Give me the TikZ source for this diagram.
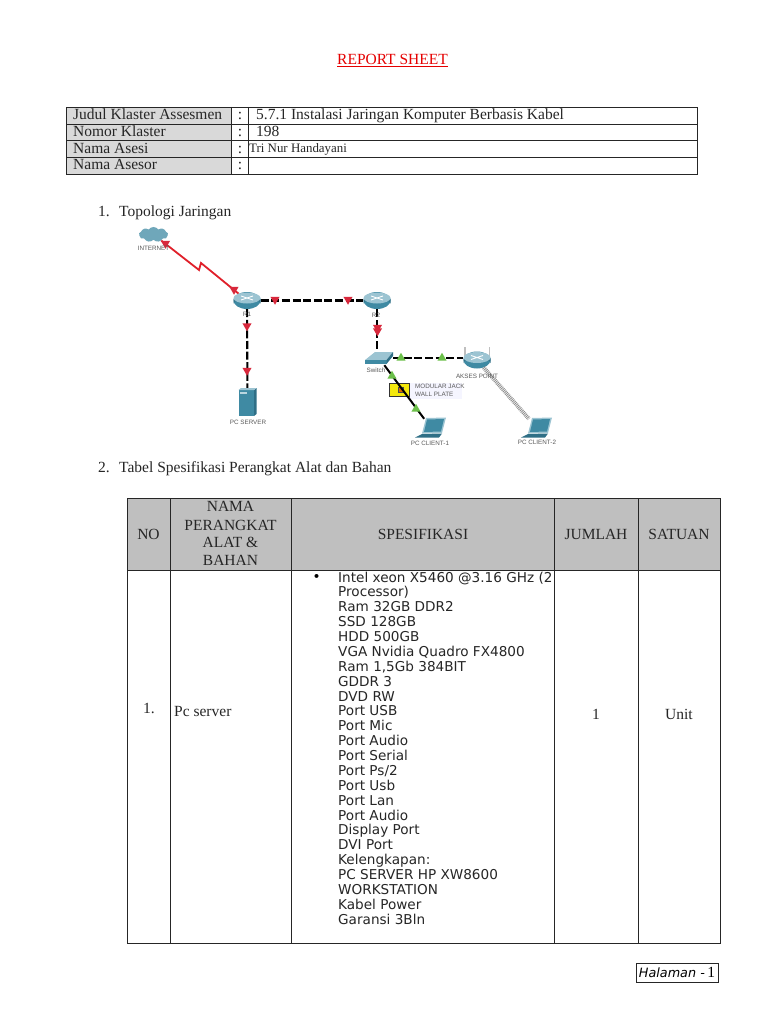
\documentclass[tikz,border=0pt]{standalone}
\usepackage{fontspec}
\setmainfont{Liberation Serif}
\newfontfamily\djv{DejaVu Sans}
\newfontfamily\lsans{Liberation Sans}
\usetikzlibrary{shapes.geometric,shapes.symbols}
\definecolor{teal1}{HTML}{3F8AA3}
\definecolor{teal2}{HTML}{9CC4D2}
\definecolor{teal3}{HTML}{2F6F86}
\definecolor{hdrgray}{HTML}{BFBFBF}
\definecolor{lblgray}{HTML}{D9D9D9}
\definecolor{lnkred}{HTML}{E0202A}
\definecolor{trired}{HTML}{D8283C}
\definecolor{trigreen}{HTML}{6CC04A}
\tikzset{
 txt/.style={inner sep=0pt,font=\fontsize{15.5}{15.5}\selectfont,text=black!85},
 bl/.style={txt,anchor=base west},
 bc/.style={txt,anchor=base},
 rule/.style={draw=black!85,line width=0.9pt},
 lbl/.style={inner sep=0pt,font=\lsans\fontsize{6.3}{7.5}\selectfont,text=black!65,anchor=base},
 devbox/.style={inner sep=0pt,minimum width=#1,minimum height=14pt,draw=none},
 routernode/.style={ellipse,inner sep=0pt,minimum width=27pt,minimum height=17pt,fill=teal1},
 plink/.style={draw=black,line width=2.1pt,dash pattern=on 8pt off 2.6pt},
 solidk/.style={draw=black,line width=2pt},
 wlink/.style={draw=black!45,line width=4pt,dash pattern=on 0.8pt off 0.9pt},
 rlink/.style={draw=lnkred,line width=1.8pt},
 redtri/.style={regular polygon,regular polygon sides=3,shape border rotate=180,fill=trired,inner sep=0pt,minimum size=10.5pt},
 greentri/.style={regular polygon,regular polygon sides=3,fill=trigreen,inner sep=0pt,minimum size=10.5pt},
}
\newcommand{\routerart}[2]{%
 \begin{scope}[shift={(#1,#2)}]
 \fill[teal3] (-13.5,-2) -- (-13.5,3) arc[start angle=180,end angle=360,x radius=13.5,y radius=5] -- (13.5,-2) -- cycle;
 \fill[teal2] (0,-2.5) ellipse[x radius=13.5,y radius=5.5];
 \draw[white,line width=0.8pt] (-6,-4.5) -- (6,-0.5) (-6,-0.5) -- (6,-4.5);
 \end{scope}}
\newcommand{\laptopart}[2]{%
 \begin{scope}[shift={(#1,#2)}]
 \fill[teal2] (-5,-10) -- (15,-10.500) -- (11,5) -- (-9,5.500) -- cycle;
 \fill[teal1] (-4,-8.500) -- (13,-9) -- (10,3.500) -- (-7,4) -- cycle;
 \fill[teal3] (-9,6) -- (11,5.500) -- (8,9.500) -- (-16,9.500) -- cycle;
 \end{scope}}
\begin{document}
\begin{tikzpicture}[x=1pt,y=-1pt]
\useasboundingbox (0,0) rectangle (768,1024);
\fill[white] (0,0) rectangle (768,1024);

% heading
\node[bc,text=red!90!black] (title) at (392.5,65) {\underline{REPORT SHEET}};

% header table
\fill[lblgray] (66,107) rectangle (231,174);
\draw[rule] (66,107) rectangle (697,174);
\draw[rule] (66,124) -- (697,124) (66,140.5) -- (697,140.5) (66,157) -- (697,157);
\draw[rule] (231,107) -- (231,174) (248,107) -- (248,174);
\node[bl] (k1) at (73,120) {Judul Klaster Assesmen};
\node[bl] (k2) at (73,137) {Nomor Klaster};
\node[bl] (k3) at (73,153.500) {Nama Asesi};
\node[bl] (k4) at (73,170) {Nama Asesor};
\node[bc] (c1) at (240,120) {:};
\node[bc] (c2) at (240,137) {:};
\node[bc] (c3) at (240,153.500) {:};
\node[bc] (c4) at (240,170) {:};
\node[bl] (v1) at (256,120) {5.7.1 Instalasi Jaringan Komputer Berbasis Kabel};
\node[bl] (v2) at (256,137) {198};
\node[bl,font=\fontsize{12.9}{13}\selectfont] (v3) at (249,152.500) {Tri Nur Handayani};

% section headings
\node[bl] (n1) at (98,217) {1.};
\node[bl] (h1) at (119,217) {Topologi Jaringan};
\node[bl] (n2) at (98,472) {2.};
\node[bl] (h2) at (119,472) {Tabel Spesifikasi Perangkat Alat dan Bahan};

% topology devices
\node[cloud,cloud puffs=9,cloud puff arc=110,aspect=2.4,inner sep=0pt,minimum width=29pt,minimum height=15pt,fill=teal1!75] (internet) at (153.5,234.5) {};
\node[routernode] (r1) at (247,300.5) {};
\node[routernode] (r2) at (377,300.5) {};
\node[devbox=18pt,minimum height=28pt] (server) at (247.5,403) {};
\node[devbox=28pt] (sw) at (379,358) {};
\node[routernode] (ap) at (477,360) {};
\node[devbox=24pt,minimum height=18pt] (pc1) at (431,428) {};
\node[devbox=24pt,minimum height=18pt] (pc2) at (537,428) {};
\coordinate (zigA) at (199,270);
\coordinate (zigB) at (201,263);

% links
\draw[rlink] (internet) -- (zigA) -- (zigB) -- (r1);
\draw[plink] (r1) -- (r2);
\draw[plink] (r1) -- (server);
\draw[plink] (r2) -- (r2 |- sw.north);
\draw[plink] (sw.east) -- (sw.east -| ap.west);
\draw[wlink] (ap) -- (pc2);

% wall plate (beneath the cable)
\fill[blue!4] (409,383) rectangle (462,398.5);
\node[inner sep=0pt,minimum width=20pt,minimum height=13pt,fill=yellow!95!black,draw=black!80,line width=0.5pt] (wall) at (399,389.5) {};
\node[inner sep=0pt,minimum size=5pt,fill=orange!85!black,draw=black!70,line width=0.4pt] (jack) at (400.500,389.5) {};
\draw[solidk] (sw) -- (pc1);

% icons
\routerart{247}{300.5}
\routerart{377}{300.5}
\draw[black!25,line width=1.2pt] (465,357) -- (465,347) (489.500,357) -- (489.500,347);
\routerart{477}{360}
\fill[teal1] (238.5,390) -- (254,390) -- (254,416) -- (238.5,416) -- cycle;
\fill[teal3] (254,390) -- (256.5,388) -- (256.5,414) -- (254,416) -- cycle;
\fill[teal2] (238.5,390) -- (241,388) -- (256.5,388) -- (254,390) -- cycle;
\fill[teal2!70] (240,392) rectangle (247,394);
\fill[teal2] (365,360) -- (375,352) -- (393,352) -- (386.5,360) -- cycle;
\fill[teal1] (365,360) rectangle (386.5,364);
\fill[teal3] (386.5,360) -- (393,352) -- (393,356) -- (386.5,364) -- cycle;
\laptopart{431}{428}
\laptopart{537}{428}

% link markers
\node[redtri] (t1) at (165.500,243.500) {};
\node[redtri] (t2) at (234,289.500) {};
\node[redtri] (t3) at (275,299.500) {};
\node[redtri] (t4) at (348,299.500) {};
\node[redtri] (t5) at (247,326) {};
\node[redtri] (t6) at (247,370.500) {};
\node[redtri] (t7) at (377.500,327.500) {};
\node[redtri] (t8) at (377.500,331) {};
\node[greentri] (t9) at (401,358) {};
\node[greentri] (t10) at (442,358) {};
\node[greentri] (t11) at (392,376) {};
\node[greentri] (t12) at (416,409) {};

% topology labels
\node[lbl] (l1) at (153.500,251) {INTERNET};
\node[lbl] (l2) at (247,316.500) {R1};
\node[lbl] (l3) at (376,317) {R2};
\node[lbl] (l4) at (248,424.500) {PC SERVER};
\node[lbl] (l5) at (376,372.500) {Switch};
\node[lbl] (l6) at (477,378) {AKSES POINT};
\node[lbl,anchor=base west] (l7) at (415,388.500) {MODULAR JACK};
\node[lbl,anchor=base west] (l8) at (415,396.500) {WALL PLATE};
\node[lbl] (l9) at (430,445.500) {PC CLIENT-1};
\node[lbl] (l10) at (537,444.500) {PC CLIENT-2};

% main table
\fill[hdrgray] (127,498) rectangle (720,570);
\draw[rule] (127,498) rectangle (720,943);
\draw[rule] (127,570) -- (720,570);
\draw[rule] (170,498) -- (170,943) (291,498) -- (291,943) (554,498) -- (554,943) (638,498) -- (638,943);
\node[bc] (th1) at (148.500,539) {NO};
\node[bc] (th2a) at (230.500,511) {NAMA};
\node[bc] (th2b) at (230.500,530) {PERANGKAT};
\node[bc] (th2c) at (230.500,547.500) {ALAT \&};
\node[bc] (th2d) at (230.500,565) {BAHAN};
\node[bc] (th3) at (423,539) {SPESIFIKASI};
\node[bc] (th4) at (596,539) {JUMLAH};
\node[bc] (th5) at (679,539) {SATUAN};
\node[bc] (d1) at (149,713) {1.};
\node[bl] (d2) at (174,716) {Pc server};
\node[bc] (d4) at (596,719) {1};
\node[bc] (d5) at (679,719) {Unit};
\node[inner sep=0pt,font=\djv\fontsize{13.6}{14.87}\selectfont,anchor=base west] (bul) at (312.500,581.500) {•};
\node[inner sep=0pt,anchor=north west,align=left,text=black!85,font=\djv\fontsize{13.6}{14.87}\selectfont] (spec) at (338,571.500) {%
\strut Intel xeon X5460 @3.16 GHz (2\\
\strut Processor)\\
\strut Ram 32GB DDR2\\
\strut SSD 128GB\\
\strut HDD 500GB\\
\strut VGA Nvidia Quadro FX4800\\
\strut Ram 1,5Gb 384BIT\\
\strut GDDR 3\\
\strut DVD RW\\
\strut Port USB\\
\strut Port Mic\\
\strut Port Audio\\
\strut Port Serial\\
\strut Port Ps/2\\
\strut Port Usb\\
\strut Port Lan\\
\strut Port Audio\\
\strut Display Port\\
\strut DVI Port\\
\strut Kelengkapan:\\
\strut PC SERVER HP XW8600\\
\strut WORKSTATION\\
\strut Kabel Power\\
\strut Garansi 3Bln};

% page number
\node[draw=black!85,line width=0.8pt,inner sep=0pt,minimum width=82pt,minimum height=19pt] (page) at (677,972.500) {{\djv\itshape\fontsize{12.8}{14}\selectfont Halaman -} {\fontsize{15.5}{15}\selectfont 1}};
\end{tikzpicture}
\end{document}
